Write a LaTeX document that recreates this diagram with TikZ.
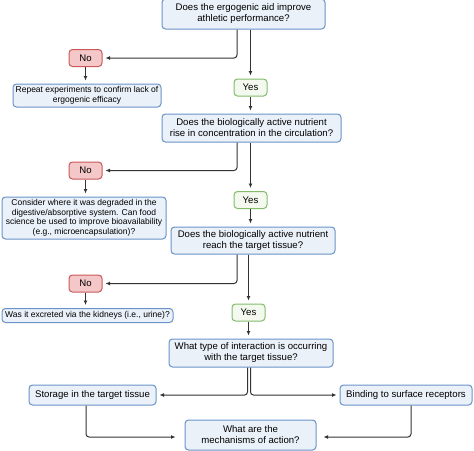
\documentclass[tikz,border=0pt]{standalone}
\usepackage{fontspec}
\setmainfont{Liberation Sans}
\usetikzlibrary{arrows.meta}

\definecolor{qfill}{HTML}{EAF1F9}
\definecolor{qline}{HTML}{6A93C8}
\definecolor{nofill}{HTML}{F4C7C8}
\definecolor{noline}{HTML}{C9595A}
\definecolor{yesfill}{HTML}{F3F9EF}
\definecolor{yesline}{HTML}{82BB6A}
\definecolor{arrline}{HTML}{333333}

\begin{document}
\begin{tikzpicture}[x=1pt,y=-1pt,
        box/.style={draw=qline,fill=qfill,line width=1pt,rounded corners=3.5pt,align=center,inner sep=0pt,
            font=\fontsize{9.6}{11}\selectfont},
        smallbox/.style={box,font=\fontsize{8.5}{9.5}\selectfont},
        nobox/.style={draw=noline,fill=nofill,line width=1pt,rounded corners=3.5pt,inner sep=0pt,
            minimum width=33pt,minimum height=17pt,font=\fontsize{9.6}{11}\selectfont},
        yesbox/.style={nobox,draw=yesline,fill=yesfill},
        arr/.style={draw=arrline,line width=1pt,rounded corners=3pt,-{Latex[length=4.5pt,width=4pt]},shorten >=3pt}]
        \useasboundingbox (0,0) rectangle (474,450);
        % questions
        \node[box,minimum width=163pt,minimum height=30pt] (q1) at (243.5,14) {Does the ergogenic aid improve\\athletic performance?};
        \node[box,minimum width=179pt,minimum height=28pt] (q2) at (251.5,128) {Does the biologically active nutrient\\rise in concentration in the circulation?};
        \node[box,minimum width=164pt,minimum height=27pt] (q3) at (253,240.5) {Does the biologically active nutrient\\reach the target tissue?};
        \node[box,minimum width=164pt,minimum height=28pt] (q4) at (251,353) {What type of interaction is occurring\\with the target tissue?};
        \node[box,minimum width=131pt,minimum height=30pt] (mech) at (250.5,435) {What are the\\mechanisms of action?};
        % answers
        \node[nobox] (no1) at (85.5,58) {No};
        \node[nobox] (no2) at (85.5,170.5) {No};
        \node[nobox] (no3) at (85.5,283.5) {No};
        \node[yesbox] (yes1) at (250.5,87.5) {Yes};
        \node[yesbox] (yes2) at (250.5,200) {Yes};
        \node[yesbox] (yes3) at (248.5,312.5) {Yes};
        % outcomes
        \node[smallbox,minimum width=148pt,minimum height=23pt] (repeat) at (87,95.5) {Repeat experiments to confirm lack of\\ergogenic efficacy};
        \node[smallbox,minimum width=164pt,minimum height=42pt] (consider) at (84,218) {Consider where it was degraded in the\\digestive/absorptive system. Can food\\science be used to improve bioavailability\\(e.g., microencapsulation)?};
        \node[smallbox,minimum width=171pt,minimum height=14pt] (kidney) at (87.5,315.5) {Was it excreted via the kidneys (i.e., urine)?};
        \node[box,minimum width=127pt,minimum height=20pt] (storage) at (92.5,395) {Storage in the target tissue};
        \node[box,minimum width=132pt,minimum height=20pt] (binding) at (406,395) {Binding to surface receptors};

        \draw[arr] ([xshift=-6.5pt]q1.south) |- (no1.east);
        \draw[arr] (q1.south -| yes1.north) -- (yes1.north);
        \draw[arr] (no1.south) -- (no1.south |- repeat.north);
        \draw[arr] (yes1.south) -- (yes1.south |- q2.north);

        \draw[arr] ([xshift=-14.5pt]q2.south) |- (no2.east);
        \draw[arr] (q2.south -| yes2.north) -- (yes2.north);
        \draw[arr] (no2.south) -- (no2.south |- consider.north);
        \draw[arr] (yes2.south) -- (yes2.south |- q3.north);

        \draw[arr] ([xshift=-16pt]q3.south) |- (no3.east);
        \draw[arr] (q3.south -| yes3.north) -- (yes3.north);
        \draw[arr] (no3.south) -- (no3.south |- kidney.north);
        \draw[arr] (yes3.south) -- (yes3.south |- q4.north);

        \draw[arr] ([xshift=-3.5pt]q4.south) |- (storage.east);
        \draw[arr] ([xshift=-0.5pt]q4.south) |- (binding.west);
        \draw[arr,shorten >=9pt] ([xshift=-6.5pt]storage.south) |- ([yshift=-2pt]mech.west);
        \draw[arr,shorten >=7pt] ([xshift=5pt]binding.south) |- ([yshift=-2pt]mech.east);
\end{tikzpicture}
\end{document}
